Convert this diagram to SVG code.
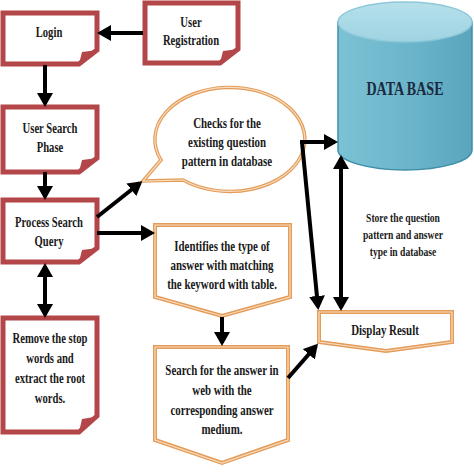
<svg xmlns="http://www.w3.org/2000/svg" width="474" height="475" viewBox="0 0 474 475">
<style>
.red{fill:#fff;stroke:#b24649;stroke-width:5;stroke-linejoin:miter}
.fold{fill:#b24649}
.org{fill:#fff;stroke:#e39c5a;stroke-width:4;stroke-linejoin:miter}
.orgin{fill:none;stroke:#f9dcbc;stroke-width:1.2}
.t{font-family:"Liberation Serif","Times New Roman",serif;font-weight:bold;font-size:14px;fill:#1a1a1a;text-anchor:middle}
.s{font-family:"Liberation Serif","Times New Roman",serif;font-weight:bold;font-size:12px;fill:#1a1a1a;text-anchor:middle}
.c{fill:none;stroke:#000;stroke-width:4}
</style>
<defs>
<marker id="ah" markerUnits="userSpaceOnUse" markerWidth="16" markerHeight="16" refX="11" refY="8" orient="auto-start-reverse" viewBox="0 0 16 16">
<path d="M0,0 L14,8 L0,16 Z" fill="#000"/>
</marker>
<linearGradient id="cyl" x1="0" y1="0" x2="1" y2="0">
<stop offset="0" stop-color="#7cc2d5"/>
<stop offset="0.6" stop-color="#69b3c9"/>
<stop offset="1" stop-color="#5aa5bc"/>
</linearGradient>
<linearGradient id="cyltop" x1="0" y1="0" x2="0" y2="1">
<stop offset="0" stop-color="#b6e0eb"/>
<stop offset="1" stop-color="#9fd3e2"/>
</linearGradient>
</defs>

<g id="database">
<path d="M338,22 V150 A67,20 0 0 0 472,150 V22 Z" fill="url(#cyl)" stroke="#3f8fa8" stroke-width="1.5"/>
<ellipse cx="405" cy="22" rx="67" ry="20" fill="url(#cyltop)" stroke="#8cc8d8" stroke-width="1.5"/>
<text class="t" transform="translate(405,95) scale(0.78,1)" style="font-size:18px;fill:#1b2a3e">DATA BASE</text>
</g>

<g id="login">
<path class="red" d="M3,13 H97 V50 L79,64 H3 Z"/>
<path class="fold" d="M79,64 L82,52 Q90,51 97,50 Z"/>
<text class="t" transform="translate(49,37) scale(0.76,1)">Login</text>
</g>

<g id="user-registration">
<path class="red" d="M145,3 H238 V49 L220,63 H145 Z"/>
<path class="fold" d="M220,63 L223,51 Q231,50 238,49 Z"/>
<text class="t" transform="translate(191,27) scale(0.76,1)">User</text>
<text class="t" transform="translate(191,45) scale(0.76,1)">Registration</text>
</g>

<g id="user-search-phase">
<path class="red" d="M3,107 H97 V158 L79,172 H3 Z"/>
<path class="fold" d="M79,172 L82,160 Q90,159 97,158 Z"/>
<text class="t" transform="translate(50,133) scale(0.76,1)">User Search</text>
<text class="t" transform="translate(50,152) scale(0.76,1)">Phase</text>
</g>

<g id="process-search-query">
<path class="red" d="M3,200 H97 V248 L79,262 H3 Z"/>
<path class="fold" d="M79,262 L82,250 Q90,249 97,248 Z"/>
<text class="t" transform="translate(49,227) scale(0.76,1)">Process Search</text>
<text class="t" transform="translate(49,246) scale(0.76,1)">Query</text>
</g>

<g id="remove-stop-words">
<path class="red" d="M3,318 H97 V416 L79,432 H3 Z"/>
<path class="fold" d="M79,432 L82,419 Q90,418 97,416 Z"/>
<text class="t" transform="translate(50,343) scale(0.76,1)">Remove the stop</text>
<text class="t" transform="translate(50,363) scale(0.76,1)">words and</text>
<text class="t" transform="translate(50,383) scale(0.76,1)">extract the root</text>
<text class="t" transform="translate(50,403) scale(0.76,1)">words.</text>
</g>

<g id="checks-bubble">
<path class="org" d="M161,160 L143,181 L183,180 A75,52 0 1 0 161,160 Z" style="stroke-width:3.5"/>
<path class="orgin" d="M161,160 L143,181 L183,180 A75,52 0 1 0 161,160 Z"/>
<text class="t" transform="translate(227,128) scale(0.78,1)">Checks for the</text>
<text class="t" transform="translate(227,147) scale(0.78,1)">existing question</text>
<text class="t" transform="translate(227,166) scale(0.78,1)">pattern in database</text>
</g>

<g id="identifies-type">
<path class="org" d="M155,225 H290 V297 L222,316 L155,297 Z"/>
<path class="orgin" d="M155,225 H290 V297 L222,316 L155,297 Z"/>
<text class="t" transform="translate(222,251) scale(0.78,1)">Identifies the type of</text>
<text class="t" transform="translate(222,270) scale(0.78,1)">answer with matching</text>
<text class="t" transform="translate(222,289) scale(0.78,1)">the keyword with table.</text>
</g>

<g id="search-web">
<path class="org" d="M155,347 H288 V440 L222,463 L155,440 Z"/>
<path class="orgin" d="M155,347 H288 V440 L222,463 L155,440 Z"/>
<text class="t" transform="translate(222,375) scale(0.78,1)">Search for the answer in</text>
<text class="t" transform="translate(222,395) scale(0.78,1)">web with the</text>
<text class="t" transform="translate(222,415) scale(0.78,1)">corresponding answer</text>
<text class="t" transform="translate(222,434) scale(0.78,1)">medium.</text>
</g>

<g id="display-result">
<path class="org" d="M319,312 H452 V342 L386,351 L319,342 Z"/>
<path class="orgin" d="M319,312 H452 V342 L386,351 L319,342 Z"/>
<text class="t" transform="translate(385,335) scale(0.78,1)">Display Result</text>
</g>

<g id="store-label">
<text class="s" transform="translate(403,222) scale(0.8,1)">Store the question</text>
<text class="s" transform="translate(403,239) scale(0.8,1)">pattern and answer</text>
<text class="s" transform="translate(403,256) scale(0.8,1)">type in database</text>
</g>

<g id="connectors">
<path class="c" d="M143,33 L100,33" marker-end="url(#ah)"/>
<path class="c" d="M45,65 L45,104" marker-end="url(#ah)"/>
<path class="c" d="M45,172 L45,197" marker-end="url(#ah)"/>
<path class="c" d="M45,266 L45,315" marker-start="url(#ah)" marker-end="url(#ah)"/>
<path class="c" d="M97,217 L140,183" marker-end="url(#ah)"/>
<path class="c" d="M97,233 L152,233" marker-end="url(#ah)"/>
<path class="c" d="M222,317 L222,343" marker-end="url(#ah)"/>
<path class="c" d="M288,378 L316,346" marker-end="url(#ah)"/>
<path class="c" d="M300,142 L335,142" marker-end="url(#ah)"/>
<path class="c" d="M302,142 L318,307" marker-end="url(#ah)"/>
<path class="c" d="M341,158 L341,308" marker-start="url(#ah)" marker-end="url(#ah)"/>
</g>
</svg>
